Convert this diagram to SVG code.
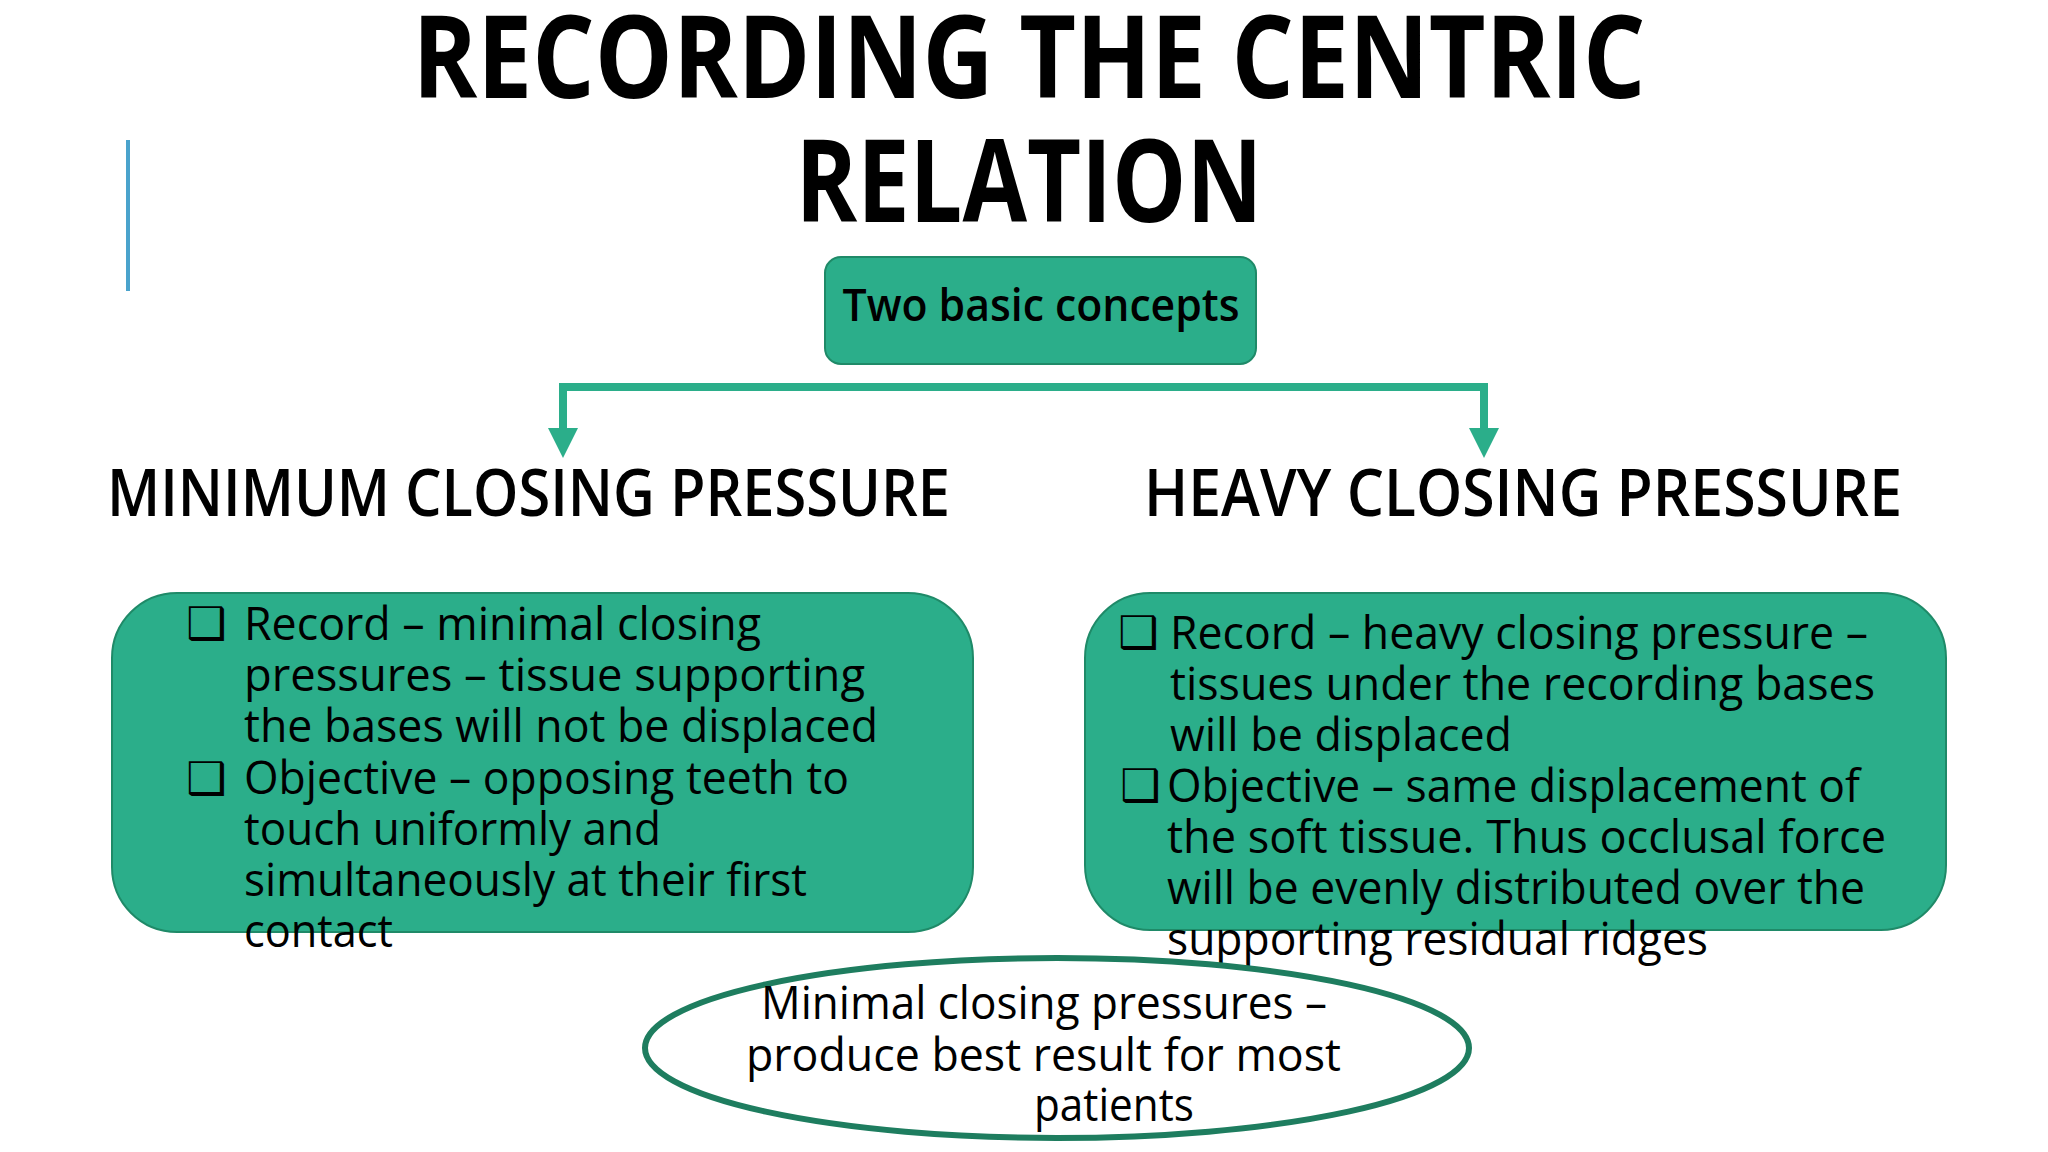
<svg xmlns="http://www.w3.org/2000/svg" width="2048" height="1152" viewBox="0 0 2048 1152">
<style>
.title{font-family:"Open Sans","Liberation Sans",sans-serif;font-weight:700;font-size:115px;fill:#000}
.head{font-family:"Open Sans","Liberation Sans",sans-serif;font-weight:600;font-size:66px;fill:#000}
.body{font-family:"Open Sans","Liberation Sans",sans-serif;font-size:46px;fill:#000}
.bul{font-family:"DejaVu Sans",sans-serif;font-size:45px;fill:#000}
.box{fill:#2bae8a;stroke:#1f8a68;stroke-width:2}
.conn{fill:none;stroke:#2bae8a;stroke-width:8}
</style>
<defs>
<marker id="arr" markerUnits="userSpaceOnUse" markerWidth="30" markerHeight="30" refX="0" refY="15" orient="auto" viewBox="0 0 30 30">
<path d="M0,0 L30,15 L0,30 Z" fill="#2bae8a"/>
</marker>
</defs>
<rect width="2048" height="1152" fill="#fff"/>
<line x1="128" y1="140" x2="128" y2="291" stroke="#4aa3cc" stroke-width="4"/>
<g id="title">
<text class="title" x="1029" y="98" text-anchor="middle" textLength="1233" lengthAdjust="spacingAndGlyphs">RECORDING THE CENTRIC</text>
<text class="title" x="1029" y="222" text-anchor="middle" textLength="467" lengthAdjust="spacingAndGlyphs">RELATION</text>
</g>
<g id="connectors">
<path class="conn" d="M1024,387 H563 V428" marker-end="url(#arr)"/>
<path class="conn" d="M1020,387 H1484 V428" marker-end="url(#arr)"/>
</g>
<g id="concepts">
<rect class="box" x="825" y="257" width="431" height="107" rx="16"/>
<text class="body" x="1041" y="321" text-anchor="middle" font-weight="600" textLength="397" lengthAdjust="spacingAndGlyphs">Two basic concepts</text>
</g>
<g id="minimum-heading">
<text class="head" x="107" y="516" textLength="843" lengthAdjust="spacingAndGlyphs">MINIMUM CLOSING PRESSURE</text>
</g>
<g id="heavy-heading">
<text class="head" x="1144" y="516" textLength="758" lengthAdjust="spacingAndGlyphs">HEAVY CLOSING PRESSURE</text>
</g>
<g id="minimum-box">
<rect class="box" x="112" y="593" width="861" height="339" rx="65"/>
<text class="bul" x="186" y="639">❑</text>
<text class="bul" x="186" y="794">❑</text>
<text class="body" x="244" y="640" textLength="517" lengthAdjust="spacingAndGlyphs">Record – minimal closing</text>
<text class="body" x="244" y="691" textLength="621" lengthAdjust="spacingAndGlyphs">pressures – tissue  supporting</text>
<text class="body" x="244" y="742" textLength="634" lengthAdjust="spacingAndGlyphs">the bases will not be displaced</text>
<text class="body" x="244" y="794" textLength="605" lengthAdjust="spacingAndGlyphs">Objective – opposing teeth to</text>
<text class="body" x="244" y="845" textLength="417" lengthAdjust="spacingAndGlyphs">touch uniformly and</text>
<text class="body" x="244" y="896" textLength="563" lengthAdjust="spacingAndGlyphs">simultaneously at their first</text>
<text class="body" x="244" y="947" textLength="149" lengthAdjust="spacingAndGlyphs">contact</text>
</g>
<g id="heavy-box">
<rect class="box" x="1085" y="593" width="861" height="337" rx="65"/>
<text class="bul" x="1118" y="648">❑</text>
<text class="bul" x="1120" y="801">❑</text>
<text class="body" x="1170" y="649" textLength="698" lengthAdjust="spacingAndGlyphs">Record – heavy closing pressure –</text>
<text class="body" x="1170" y="700" textLength="705" lengthAdjust="spacingAndGlyphs">tissues under  the recording bases</text>
<text class="body" x="1170" y="751" textLength="342" lengthAdjust="spacingAndGlyphs">will be displaced</text>
<text class="body" x="1167" y="802" textLength="693" lengthAdjust="spacingAndGlyphs">Objective – same displacement of</text>
<text class="body" x="1167" y="853" textLength="719" lengthAdjust="spacingAndGlyphs">the soft tissue. Thus occlusal force</text>
<text class="body" x="1167" y="904" textLength="698" lengthAdjust="spacingAndGlyphs">will be evenly distributed over the</text>
<text class="body" x="1167" y="955" textLength="541" lengthAdjust="spacingAndGlyphs">supporting residual ridges</text>
</g>
<g id="conclusion">
<ellipse cx="1057" cy="1048" rx="412" ry="90" fill="none" stroke="#1e7d5f" stroke-width="6"/>
<text class="body" x="761" y="1019" textLength="566" lengthAdjust="spacingAndGlyphs">Minimal closing pressures –</text>
<text class="body" x="746" y="1071" textLength="595" lengthAdjust="spacingAndGlyphs">produce best  result for most</text>
<text class="body" x="1034" y="1121" textLength="160" lengthAdjust="spacingAndGlyphs">patients</text>
</g>
</svg>
